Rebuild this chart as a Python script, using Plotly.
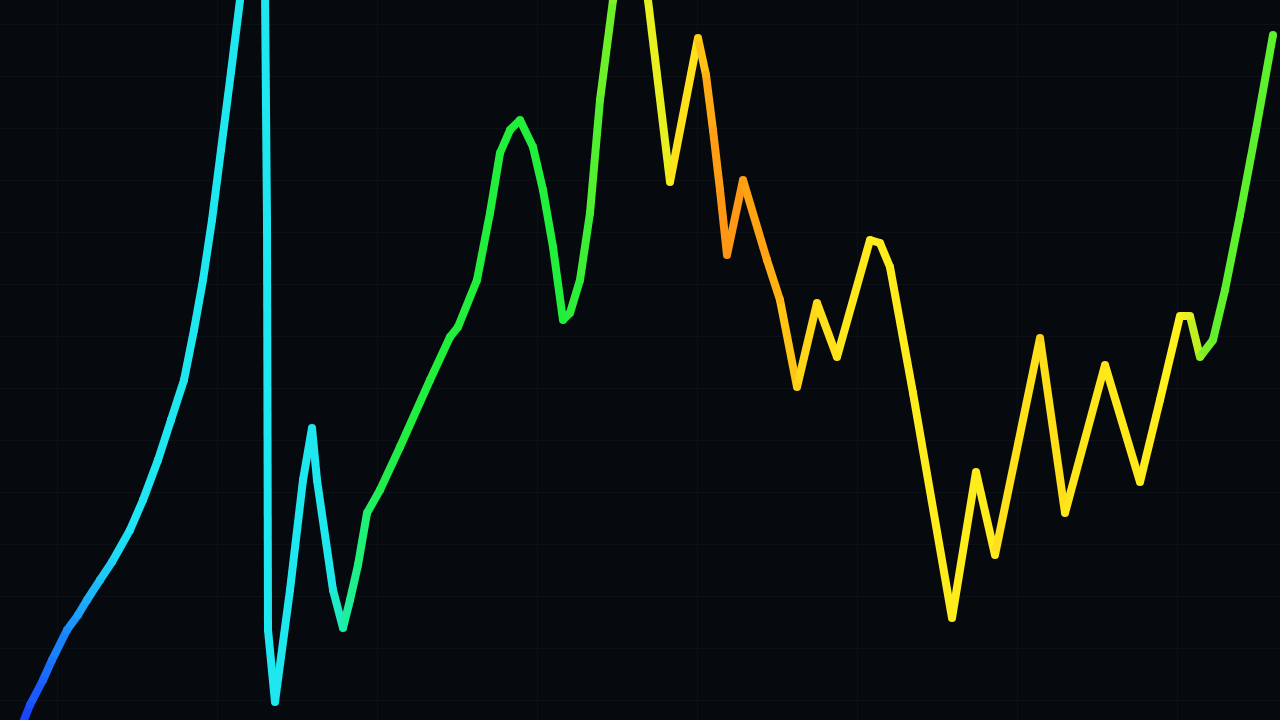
import plotly.graph_objects as go
from plotly.colors import sample_colorscale

# time axis (arbitrary units) and values
t = [20, 30, 43, 52, 67, 78, 87, 100, 112, 130, 143, 158, 171, 184, 194, 203,
     212, 221, 231, 240, 253, 265, 267, 268, 275, 290, 303, 312, 317, 333, 343,
     350, 358, 367, 380, 400, 430, 450, 458, 477, 490, 500, 510, 520, 533, 543,
     553, 563, 570, 580, 590, 600, 613, 630, 648, 670, 698, 706, 713, 720, 727,
     743, 767, 780, 797, 817, 837, 870, 880, 890, 913, 952, 976, 995, 1040, 1065,
     1105, 1140, 1160, 1180, 1190, 1200, 1213, 1225, 1240, 1256, 1273]
value = [-10, 15, 40, 60, 90, 105, 120, 140, 158, 190, 220, 260, 300, 340, 390, 440,
         500, 570, 648, 720, 790, 730, 500, 90, 18, 130, 240, 292, 240, 130, 92,
         120, 155, 207, 230, 273, 340, 383, 393, 440, 507, 567, 590, 600, 573, 530,
         473, 400, 407, 440, 507, 620, 720, 790, 720, 538, 682, 645, 590, 530, 465,
         540, 460, 420, 333, 417, 363, 480, 477, 453, 327, 102, 248, 165, 382, 207,
         355, 238, 320, 404, 404, 363, 380, 430, 505, 590, 685]
heat = [0.0, 0.03, 0.06, 0.09, 0.12, 0.15, 0.17, 0.2, 0.22, 0.25, 0.27, 0.29, 0.3, 0.3, 0.3, 0.3,
        0.3, 0.3, 0.3, 0.3, 0.3, 0.3, 0.3, 0.3, 0.3, 0.3, 0.3, 0.3, 0.31, 0.36, 0.41,
        0.43, 0.45, 0.48, 0.52, 0.54, 0.55, 0.55, 0.55, 0.55, 0.55, 0.55, 0.55, 0.55, 0.55, 0.55,
        0.55, 0.55, 0.56, 0.57, 0.6, 0.63, 0.67, 0.71, 0.74, 0.77, 0.86, 0.93, 0.97, 0.99, 1.0,
        0.98, 0.95, 0.92, 0.86, 0.83, 0.81, 0.79, 0.79, 0.79, 0.79, 0.79, 0.79, 0.79, 0.85, 0.8,
        0.81, 0.79, 0.79, 0.77, 0.75, 0.68, 0.64, 0.63, 0.63, 0.63, 0.63]

scale = [[0.0, '#1a3cff'], [0.12, '#1a8cff'], [0.25, '#1ee6f5'], [0.35, '#1ee8ec'],
         [0.45, '#1ef080'], [0.55, '#22ee3c'], [0.65, '#6cf02a'], [0.72, '#c8f020'],
         [0.78, '#fff01e'], [0.88, '#ffc814'], [1.0, '#ff9414']]

fig = go.Figure()
for i in range(len(t) - 1):
    col = sample_colorscale(scale, [(heat[i] + heat[i + 1]) / 2])[0]
    fig.add_trace(go.Scatter(x=t[i:i + 2], y=value[i:i + 2], mode='lines',
                             line=dict(color=col, width=8), hoverinfo='skip',
                             showlegend=False))
fig.add_trace(go.Scatter(x=t, y=value, mode='markers',
                         marker=dict(size=8, color=heat, colorscale=scale, cmin=0, cmax=1,
                                     line=dict(width=0)),
                         hoverinfo='skip', showlegend=False))

bg = '#06090d'
fig.update_layout(width=1280, height=720, margin=dict(l=0, r=0, t=0, b=0),
                  paper_bgcolor=bg, plot_bgcolor=bg, showlegend=False)
fig.update_xaxes(range=[0, 1280], showticklabels=False, zeroline=False,
                 showgrid=True, gridcolor='#0c1116', gridwidth=1, tick0=57, dtick=160,
                 showline=False, ticks='')
fig.update_yaxes(range=[0, 720], showticklabels=False, zeroline=False,
                 showgrid=True, gridcolor='#0c1116', gridwidth=1, tick0=20, dtick=52,
                 showline=False, ticks='')

fig.write_html("out.html", config={'displayModeBar': False},
               post_script="document.body.style.margin='0';"
                           "document.body.style.overflow='hidden';"
                           "document.body.style.background='#06090d';")
